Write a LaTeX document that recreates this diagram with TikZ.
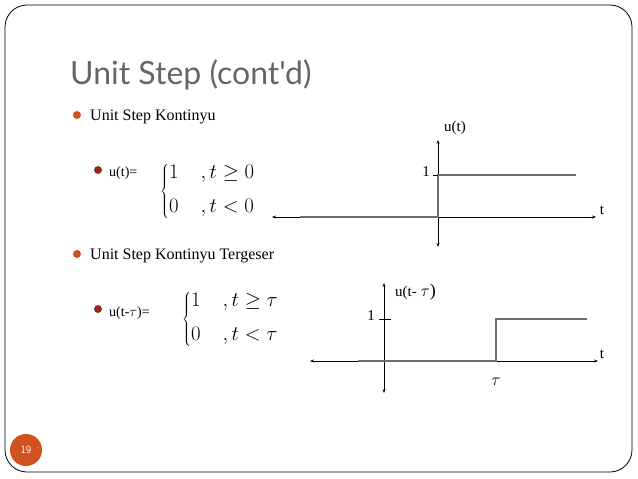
\documentclass[tikz,border=0pt]{standalone}
\usepackage{fontspec}
\setmainfont{Liberation Serif}
\newfontfamily\titlefont{Lato}
\usetikzlibrary{arrows.meta}
\definecolor{orng}{HTML}{D0501E}
\definecolor{dred}{HTML}{8E2A1E}
\definecolor{ttl}{HTML}{666666}
\definecolor{stp}{HTML}{6E6E6E}
\tikzset{
  axis/.style={{Stealth[length=4pt,width=3pt]}-{Stealth[length=4pt,width=3pt]}, line width=0.6pt},
  steppath/.style={draw=stp, line width=2pt},
  lbl/.style={font=\fontsize{15}{17}\selectfont, inner sep=0pt},
  bul/.style={circle, fill=orng, minimum size=8pt, inner sep=0pt},
  sbul/.style={circle, fill=dred, minimum size=8pt, inner sep=0pt},
  btext/.style={anchor=west, font=\fontsize{16}{18}\selectfont, inner sep=0pt},
  stext/.style={anchor=west, font=\fontsize{14}{16}\selectfont, inner sep=0pt},
  eqn/.style={anchor=west, font=\fontsize{21}{24}\selectfont, inner sep=0pt}
}
\begin{document}
\begin{tikzpicture}[x=1pt,y=-1pt]
\useasboundingbox (0,0) rectangle (638,479);
\draw[line width=0.8pt, rounded corners=22pt] (5,5) rectangle (632,472);
\node[text=ttl, anchor=west, inner sep=0pt, font=\titlefont\fontsize{32}{36}\selectfont] (title) at (70,75) {Unit Step (cont'd)};
% first bullet
\node[bul] (b1) at (77,115) {};
\node[btext] (t1) at (90,117) {Unit Step Kontinyu};
\node[sbul] (s1) at (98,170) {};
\node[stext] (st1) at (109,173) {u(t)=};
\node[eqn] (eq1) at (160,191) {$\left\{\begin{array}{@{}l@{\hspace{22pt}}l@{}}1 & ,t \ge 0\\[10pt] 0 & ,t < 0\end{array}\right.$};
% second bullet
\node[bul] (b2) at (77,254) {};
\node[btext] (t2) at (90,256) {Unit Step Kontinyu Tergeser};
\node[sbul] (s2) at (98,309) {};
\node[stext] (st2) at (109,313) {u(t-$\tau$)=};
\node[eqn] (eq2) at (182,319) {$\left\{\begin{array}{@{}l@{\hspace{22pt}}l@{}}1 & ,t \ge \tau\\[10pt] 0 & ,t < \tau\end{array}\right.$};
% top graph
\coordinate (xl1) at (272,217); \coordinate (xr1) at (596,217);
\coordinate (yt1) at (438,140); \coordinate (yb1) at (438,247);
\draw[axis] (xl1) -- (xr1);
\draw[axis] (yt1) -- (yb1);
\coordinate (a1) at (300,217); \coordinate (o1) at (438,217);
\coordinate (h1) at (438,175); \coordinate (e1) at (576,175);
\draw[steppath] (a1) -- (o1) -- (h1) -- (e1);
\coordinate (tk1) at (433,175);
\draw[line width=0.6pt] (tk1) -- (h1);
\node[lbl, anchor=east] (one1) at (430,172) {1};
\node[lbl] (ut) at (455,128) {u(t)};
\node[lbl] (tt1) at (602,210) {t};
% bottom graph
\coordinate (xl2) at (310,361); \coordinate (xr2) at (598,361);
\coordinate (yt2) at (384,283); \coordinate (yb2) at (384,393);
\draw[axis] (xl2) -- (xr2);
\draw[axis] (yt2) -- (yb2);
\coordinate (a2) at (358,361); \coordinate (o2) at (496,361);
\coordinate (h2) at (496,319); \coordinate (e2) at (587,319);
\draw[steppath] (a2) -- (o2) -- (h2) -- (e2);
\coordinate (tk2a) at (379,319); \coordinate (tk2b) at (391,319);
\draw[line width=0.6pt] (tk2a) -- (tk2b);
\node[lbl, anchor=east] (one2) at (375,316) {1};
\node[lbl, anchor=west] (utt) at (395,292) {u(t- \fontsize{18}{20}\selectfont$\tau$)};
\node[lbl] (tau) at (496,382) {\fontsize{17}{19}\selectfont$\tau$};
\node[lbl] (tt2) at (602,354) {t};
% page number
\node[circle, fill=orng, minimum size=32pt, inner sep=0pt, text=white, font=\sffamily\fontsize{11}{12}\selectfont] (pg) at (26,450) {19};
\end{tikzpicture}
\end{document}
